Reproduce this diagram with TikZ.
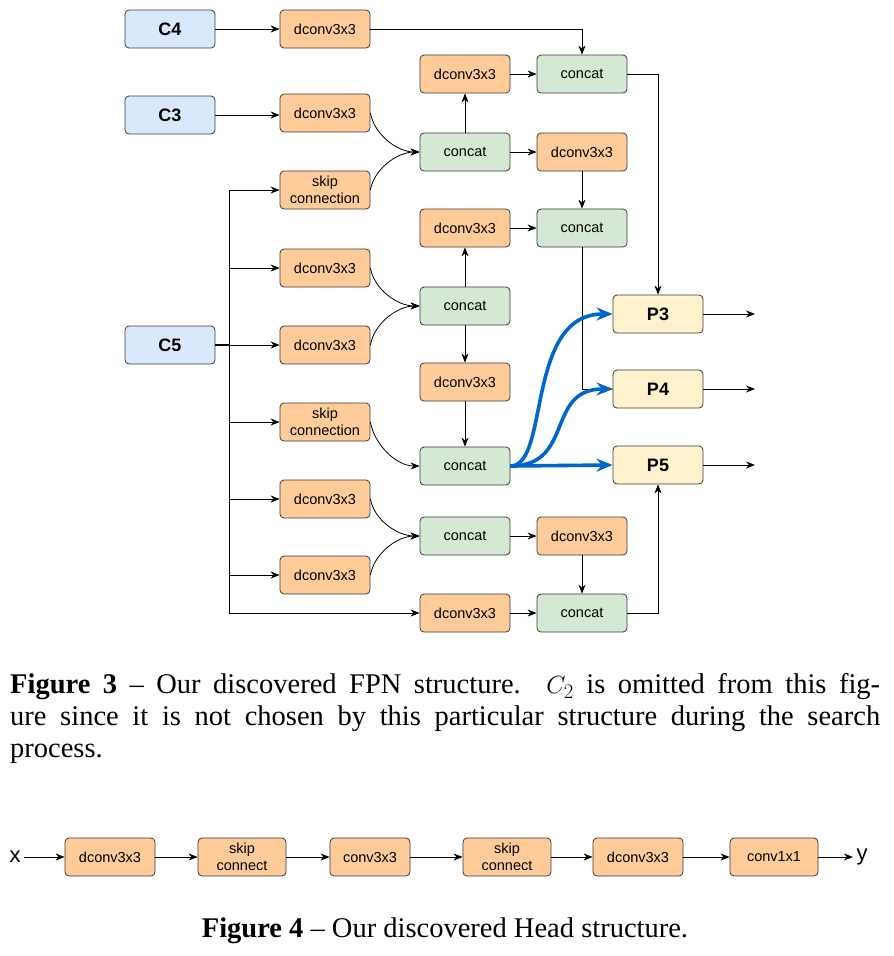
\documentclass[tikz,border=0pt]{standalone}
\usepackage{fontspec}
\setmainfont{Liberation Serif}
\newfontfamily\sansf{Liberation Sans}
\usetikzlibrary{arrows.meta}
\definecolor{orF}{HTML}{FFCC99}
\definecolor{blF}{HTML}{DAE8FC}
\definecolor{grF}{HTML}{D5E8D4}
\definecolor{yeF}{HTML}{FFF2CC}
\definecolor{edge}{HTML}{3A3A3A}
\definecolor{blueA}{HTML}{0066CC}
\begin{document}
\begin{tikzpicture}[x=1pt,y=-1pt,
 box/.style={draw=edge,rounded corners=4pt,minimum width=90pt,minimum height=38pt,inner sep=1pt,align=center,font=\sansf\fontsize{14.5}{16.5}\selectfont,line width=0.8pt},
 op/.style={box,fill=orF},
 cc/.style={box,fill=grF},
 cin/.style={box,fill=blF,font=\sansf\bfseries\fontsize{18}{20}\selectfont},
 pout/.style={box,fill=yeF,font=\sansf\bfseries\fontsize{18}{20}\selectfont},
 ar/.style={-{Stealth[length=9pt,width=7pt]},line width=0.8pt},
 bl/.style={-{Stealth[length=16pt,width=13pt]},line width=3.6pt,draw=blueA},
 cv/.style={ar,out=-80,in=180,looseness=0.9},
 cu/.style={ar,out=80,in=180,looseness=0.9}]
\useasboundingbox (0,0) rectangle (894,956);
% column 0
\node[cin] (c4) at (170,29) {C4};
\node[cin] (c3) at (170,115) {C3};
\node[cin] (c5) at (170,345) {C5};
% column 1
\node[op] (a1) at (325,29) {dconv3x3};
\node[op] (a2) at (325,113) {dconv3x3};
\node[op] (s1) at (325,190) {skip\\connection};
\node[op] (a3) at (325,268) {dconv3x3};
\node[op] (a4) at (325,345) {dconv3x3};
\node[op] (s2) at (325,422) {skip\\connection};
\node[op] (a5) at (325,499) {dconv3x3};
\node[op] (a6) at (325,575) {dconv3x3};
% column 2
\node[op] (b1) at (465,74) {dconv3x3};
\node[cc] (k1) at (465,152) {concat};
\node[op] (b2) at (465,228) {dconv3x3};
\node[cc] (k2) at (465,306) {concat};
\node[op] (b3) at (465,382) {dconv3x3};
\node[cc] (k3) at (465,466) {concat};
\node[cc] (k4) at (465,536) {concat};
\node[op] (b4) at (465,613) {dconv3x3};
% column 3
\node[cc] (m1) at (582,74) {concat};
\node[op] (d1) at (582,152) {dconv3x3};
\node[cc] (m2) at (582,228) {concat};
\node[op] (d2) at (582,536) {dconv3x3};
\node[cc] (m3) at (582,613) {concat};
% outputs
\node[pout] (p3) at (658,314) {P3};
\node[pout] (p4) at (658,389) {P4};
\node[pout] (p5) at (658,465) {P5};
\coordinate (o3) at (755,314);
\coordinate (o4) at (755,389);
\coordinate (o5) at (755,465);
\coordinate (bus) at (229,345);
% edges
\draw[ar] (c4) -- (a1);
\draw[ar] (a1.east) -| (m1.north);
\draw[ar] (c3) -- (a2.west |- c3);
\draw[cv] (a2.east) to (k1.west);
\draw[cu] (s1.east) to (k1.west);
\draw[ar] (k1) -- (b1);
\draw[ar] (k1) -- (d1);
\draw[ar] (b1) -- (m1);
\draw[ar] (d1) -- (m2);
\draw[ar] (b2) -- (m2);
\draw[ar] (k2) -- (b2);
\draw[ar] (m1.east) -| (p3.north);
\draw[ar] (m2.south) |- (p4.west);
\draw[cv] (a3.east) to (k2.west);
\draw[cu] (a4.east) to (k2.west);
\draw[ar] (k2) -- (b3);
\draw[ar] (b3) -- (k3);
\draw[cv] (s2.east) to (k3.west);
\draw[cv] (a5.east) to (k4.west);
\draw[cu] (a6.east) to (k4.west);
\draw[ar] (k4) -- (d2);
\draw[ar] (d2) -- (m3);
\draw[ar] (b4) -- (m3);
\draw[ar] (m3.east) -| (p5.south);
\draw[line width=1.4pt] (c5.east) -- (bus);
\draw[line width=0.8pt] (bus |- s1) -- (bus |- b4);
\draw[ar] (bus |- s1) -- (s1.west);
\draw[ar] (bus |- a3) -- (a3.west);
\draw[ar] (bus) -- (a4.west);
\draw[ar] (bus |- s2) -- (s2.west);
\draw[ar] (bus |- a5) -- (a5.west);
\draw[ar] (bus |- a6) -- (a6.west);
\draw[ar] (bus |- b4) -- (b4.west);
\draw[bl] (k3.east) .. controls (550,466) and (525,314) .. (p3.west);
\draw[bl] (k3.east) .. controls (575,466) and (545,389) .. (p4.west);
\draw[bl] (k3.east) -- (p5.west);
\draw[ar] (p3) -- (o3);
\draw[ar] (p4) -- (o4);
\draw[ar] (p5) -- (o5);
% caption 3
\node[anchor=north west,text width=870pt,align=justify,inner sep=0pt,font=\fontsize{28.5}{32}\selectfont] (cap3) at (10,673)
 {\textbf{Figure 3} -- Our discovered FPN structure. $C_2$ is omitted from this fig-\linebreak ure since it is not chosen by this particular structure during the search\linebreak process.};
% figure 4
\node[font=\sansf\fontsize{22}{24}\selectfont] (x) at (15,857) {x};
\node[op] (h1) at (110,857) {dconv3x3};
\node[op,minimum width=88pt] (h2) at (242,857) {skip\\connect};
\node[op,minimum width=80pt] (h3) at (370,857) {conv3x3};
\node[op,minimum width=88pt] (h4) at (507,857) {skip\\connect};
\node[op] (h5) at (638,857) {dconv3x3};
\node[op,minimum width=88pt] (h6) at (774,857) {conv1x1};
\node[font=\sansf\fontsize{22}{24}\selectfont] (y) at (862,857) {y};
\draw[ar] (x) -- (h1);
\draw[ar] (h1) -- (h2);
\draw[ar] (h2) -- (h3);
\draw[ar] (h3) -- (h4);
\draw[ar] (h4) -- (h5);
\draw[ar] (h5) -- (h6);
\draw[ar] (h6) -- (y);
\node[font=\fontsize{28.5}{32}\selectfont] (cap4) at (445,931) {\textbf{Figure 4} -- Our discovered Head structure.};
\end{tikzpicture}
\end{document}
